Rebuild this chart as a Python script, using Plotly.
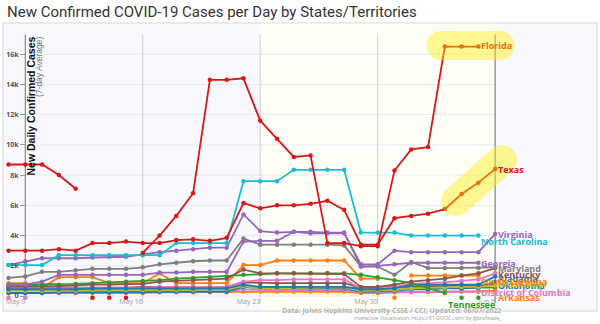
import numpy as np
import pandas as pd
import plotly.graph_objects as go

# ---------------- data (7-day average new cases) ----------------
dates = pd.date_range("2022-05-08", "2022-06-06").strftime("%Y-%m-%d").tolist()

florida = [8700, 8700, 8700, 8000, 7100, None, None, None, 2850, 4000, 5300, 6800, 14300, 14300, 14400,
           11600, 10400, 9200, 9300, 3500, 3500, 3300, 3300, 8300, 9700, 9850, 16500, 16500, 16500, None]
texas = [3000, 3000, 3000, 3100, 3000, 3500, 3500, 3600, 3500, 3500, 3700, 3750, 3650, 3850, 6150,
         5800, 6000, 6000, 6100, 6300, 5700, 3400, 3400, 5150, 5300, 5450, 5750, 6750, 7500, 8400]
virginia = [2050, 2300, 2500, 2500, 2500, 2550, 2600, 2600, 2750, 2900, 3000, 3100, 3200, 3200, 5400,
            4300, 4200, 4250, 4150, 4150, 4150, 2100, 2100, 3000, 2900, 2900, 2900, 2900, 2900, 4100]
north_carolina = [2050, 2050, 2050, 2700, 2700, 2700, 2700, 2700, 2700, 2700, 3500, 3500, 3500, 3500, 7600,
                  7600, 7600, 8350, 8350, 8350, 8350, 4200, 4200, 4200, 4000, 4000, 4000, 4000, 4000, None]
georgia = [750, 750, 950, 1400, 1400, 1400, 1400, 1400, 1400, 1550, 1550, 1600, 1600, 1600, 3600,
           3650, 3650, 4250, 4250, 4200, 4200, 1950, 2000, 2100, 2200, 2200, 2200, 2200, 2200, None]
maryland = [1200, 1300, 1600, 1600, 1700, 1800, 1800, 1800, 1900, 2100, 2200, 2300, 2350, 2350, 3800,
            3400, 3400, 3400, 3400, 3400, 3350, 1950, 1950, 1400, 2250, 1850, 1850, 1850, 1850, 1900]
kentucky = [650, 650, 600, 650, 700, 750, 750, 800, 800, 950, 1000, 1050, 1100, 1150, 1750,
            1500, 1500, 1500, 1500, 1500, 1450, 600, 600, 750, 950, 1050, 1150, 1350, 1500, 1850]
alabama = [450, 450, 450, 450, 450, 500, 500, 500, 500, 500, 500, 500, 500, 500, 750,
           600, 600, 600, 600, 600, 600, 450, 450, 500, 750, 750, 750, 750, 750, 1300]
south_carolina = [850, 850, 550, 1250, 1250, 1250, 850, 850, 850, 1500, 850, 850, 850, 850, 2050,
                  2050, 2350, 2350, 2350, 2350, 2350, 1150, 1150, None, 1350, 1350, 1350, 1350, 1350, None]
mississippi = [350, 350, 350, 350, 350, 400, 400, 400, 400, 400, 400, 400, 450, 450, 650,
               500, 500, 550, 550, 550, 550, 350, 350, 400, 500, 550, 550, 600, 600, 700]
oklahoma = [200, 200, 200, 250, 250, 250, 250, 250, 250, 300, 300, 300, 300, 300, 600,
            550, 550, 550, 500, 500, 500, 300, 300, 350, 450, 450, 500, 500, 550, 950]
district_of_columbia = [None, None, 200, 200, 200, 250, 250, 250, 250, 300, 300, 300, 300, 300, 450,
                        400, 400, 400, 400, 400, 400, 250, 250, 250, 300, 300, 300, 300, 300, None]
arkansas = [200, 200, 200, 200, 200, 200, 200, 200, 200, 250, 250, 250, 250, 250, 300,
            300, 300, 300, 300, 300, 300, 200, 200, 250, 250, 250, 300, 300, 300, 350]
tennessee = [750, 750, 750, 750, 800, 850, 900, 950, 1000, 1050, 1150, 1200, 1250, 1300, 1400,
             1450, 1500, 1500, 1500, 1500, 1500, 1400, 1250, 1050, 850, 550, 200, None, None, None]
# unlabeled (labels hidden in the crowd)
west_virginia = [500, 500, 500, 500, 500, 550, 550, 550, 550, 600, 600, 600, 600, 600, 950,
                 1050, 1050, 1100, 1100, 1100, 1100, 500, 500, 600, 800, 850, 900, 1000, 1100, 1500]
louisiana = [400, 400, 400, 400, 400, 400, 400, 400, 400, 450, 450, 450, 450, 500, 600,
             550, 550, 550, 550, 550, 550, 500, 500, 550, 550, 550, 500, 500, 500, 550]
delaware = [550, 550, 550, 550, 550, 550, 550, 550, 600, 600, 600, 600, 600, 600, 900,
            850, 850, 850, 850, 850, 850, 550, 550, 600, 650, 650, 650, 700, 700, 800]

# isolated days reported as (about) zero
zero_days = {
    "Florida": ["2022-05-13", "2022-05-14", "2022-05-15"],
    "District of Columbia": ["2022-05-08", "2022-05-09"],
    "South Carolina": ["2022-05-31"],
    "Tennessee": ["2022-06-04", "2022-06-05"],
}
zero_value = -120

tick_dates = ["2022-05-09", "2022-05-16", "2022-05-23", "2022-05-30", "2022-06-06"]
tick_text = ["May 9", "May 16", "May 23", "May 30", "Jun 6"]
y_ticks = [0, 2000, 4000, 6000, 8000, 10000, 12000, 14000, 16000]
y_text = ["0", "2k", "4k", "6k", "8k", "10k", "12k", "14k", "16k"]

# ---------------- styling ----------------
RED, PURPLE, CYAN, GRAY = "#d81818", "#9467bd", "#17becf", "#7f7f7f"
BROWN, BLUE, ORANGE, OLIVE = "#8c564b", "#1f77b4", "#ff7f0e", "#bcbd22"
PINK, GREEN = "#e377c2", "#2ca02c"

series = [  # name, values, color, label y (collision-free label placement)
    ("Delaware", delaware, BROWN, None),
    ("Louisiana", louisiana, GREEN, None),
    ("West Virginia", west_virginia, PINK, None),
    ("Arkansas", arkansas, ORANGE, -70),
    ("District of Columbia", district_of_columbia, PINK, 260),
    ("Oklahoma", oklahoma, BLUE, 730),
    ("Mississippi", mississippi, OLIVE, 800),
    ("Alabama", alabama, BLUE, 1190),
    ("South Carolina", south_carolina, ORANGE, 990),
    ("Tennessee", tennessee, GREEN, -530),
    ("Kentucky", kentucky, BROWN, 1420),
    ("Maryland", maryland, GRAY, 1850),
    ("Georgia", georgia, PURPLE, 2180),
    ("Virginia", virginia, PURPLE, 4080),
    ("North Carolina", north_carolina, CYAN, 3640),
    ("Texas", texas, RED, 8400),
    ("Florida", florida, RED, 16550),
]

W, H = 600, 324
ML, MR, MT, MB = 3, 3, 23, 13
PW, PH = W - ML - MR, H - MT - MB

fig = go.Figure()
for name, vals, color, _ in series:
    fig.add_trace(go.Scatter(
        x=dates, y=vals, mode="lines+markers", name=name,
        line=dict(color=color, width=1.8), marker=dict(color=color, size=4.5),
        connectgaps=False, showlegend=False, hoverinfo="skip"))
    if name in zero_days:
        zd = zero_days[name]
        fig.add_trace(go.Scatter(
            x=zd, y=[zero_value] * len(zd), mode="markers", marker=dict(color=color, size=4.5),
            showlegend=False, hoverinfo="skip"))

def px2paper(px, py):
    return (px - ML) / PW, 1 - (py - MT) / PH

def capsule(p1, p2, r, n=24):
    (x1, y1), (x2, y2) = p1, p2
    th = np.arctan2(y2 - y1, x2 - x1)
    a2 = np.linspace(th - np.pi / 2, th + np.pi / 2, n)
    a1 = np.linspace(th + np.pi / 2, th + 3 * np.pi / 2, n)
    pts = [(x2 + r * np.cos(a), y2 + r * np.sin(a)) for a in a2] + \
          [(x1 + r * np.cos(a), y1 + r * np.sin(a)) for a in a1]
    pp = [px2paper(x, y) for x, y in pts]
    return "M " + " L ".join(f"{x:.4f},{y:.4f}" for x, y in pp) + " Z"

shapes = [
    dict(type="rect", xref="paper", yref="paper", x0=0, x1=1, y0=0, y1=1,
         fillcolor="#f8f8fd", line=dict(color="#e2e2e2", width=1.5), layer="below"),
    dict(type="rect", xref="x", yref="paper", x0=tick_dates[2], x1=tick_dates[4], y0=0.003, y1=0.997,
         fillcolor="#fffff8", line=dict(width=0), layer="below"),
]
for v in y_ticks:
    shapes.append(dict(type="line", xref="x", yref="y", x0=tick_dates[0], x1=tick_dates[4], y0=v, y1=v,
                       line=dict(color="#e8e8f0", width=1), layer="below"))
for i, d in enumerate(tick_dates):
    col, wid = ("#8a8a8a", 1.2) if i == 0 else (("#999999", 1.5) if i == 4 else ("#cfcfcf", 1))
    shapes.append(dict(type="line", xref="x", yref="y", x0=d, x1=d, y0=0 if i == 0 else -450, y1=17300,
                       line=dict(color=col, width=wid), layer="below"))
HL = "rgba(255,238,0,0.42)"
shapes.append(dict(type="path", xref="paper", yref="paper", path=capsule((441, 45.5), (500, 45.5), 14.5),
                   fillcolor=HL, line=dict(width=0), layer="above"))
shapes.append(dict(type="path", xref="paper", yref="paper", path=capsule((456, 201), (502, 160), 15),
                   fillcolor=HL, line=dict(width=0), layer="above"))

annotations = []
for name, vals, color, ly in series:
    if ly is None:
        continue
    last = max(i for i, v in enumerate(vals) if v is not None)
    c = "#e9730f" if name == "Florida" else color
    annotations.append(dict(x=dates[last], y=ly, xref="x", yref="y", text=f"<b>{name}</b>",
                            showarrow=False, xanchor="left", yanchor="middle", xshift=1,
                            font=dict(family="Open Sans", size=9, color=c)))

annotations += [
    dict(x=px2paper(5, 0)[0], y=px2paper(0, 12)[1], xref="paper", yref="paper", xanchor="left", yanchor="middle",
         text="New Confirmed COVID-19 Cases per Day by States/Territories", showarrow=False,
         font=dict(family="Roboto", size=15, color="#333333")),
    dict(x=px2paper(31, 0)[0], y=px2paper(0, 35)[1], xref="paper", yref="paper", xanchor="center", yanchor="top",
         text="<b>New Daily Confirmed Cases</b>", textangle=-90, showarrow=False,
         font=dict(family="Liberation Sans", size=10.5, color="#111111")),
    dict(x=px2paper(39, 0)[0], y=px2paper(0, 35)[1], xref="paper", yref="paper", xanchor="center", yanchor="top",
         text="(7-day Average)", textangle=-90, showarrow=False,
         font=dict(family="Liberation Sans", size=8.5, color="#777777")),
    dict(x=px2paper(280, 0)[0], y=px2paper(0, 310)[1], xref="paper", yref="paper", xanchor="left", yanchor="middle",
         text="<b>Data: Johns Hopkins University CSSE / CCI; Updated: 06/07/2022</b>", showarrow=False,
         font=dict(family="Open Sans", size=7, color="#b4b4b4")),
    dict(x=px2paper(352, 0)[0], y=px2paper(0, 318)[1], xref="paper", yref="paper", xanchor="left", yanchor="middle",
         text="Interactive Visualization: https://91-DIVOC.com/ by @profwade_", showarrow=False,
         font=dict(family="Open Sans", size=5, color="#999999")),
]

fig.update_layout(
    width=W, height=H, margin=dict(l=ML, r=MR, t=MT, b=MB),
    paper_bgcolor="white", plot_bgcolor="rgba(0,0,0,0)",
    shapes=shapes, annotations=annotations, showlegend=False,
    xaxis=dict(type="date", range=["2022-05-07 16:05", "2022-06-12 01:40"], tickvals=tick_dates,
               ticktext=tick_text, showgrid=False, zeroline=False, showline=False, ticks="",
               anchor="free", position=(MT + PH - 296) / PH, ticklabelposition="outside left",
               tickfont=dict(family="Open Sans", size=7, color="#a0a0a0"), fixedrange=True),
    yaxis=dict(range=[-990, 18060], tickvals=y_ticks, ticktext=[f"<b>{t}</b>" for t in y_text],
               showgrid=False, zeroline=False, showline=False, ticks="outside", ticklen=5,
               tickcolor="#999999", anchor="free", position=(25 - ML) / PW,
               tickfont=dict(family="Open Sans", size=7, color="#555555"), fixedrange=True),
)

fig.write_html("out.html")
